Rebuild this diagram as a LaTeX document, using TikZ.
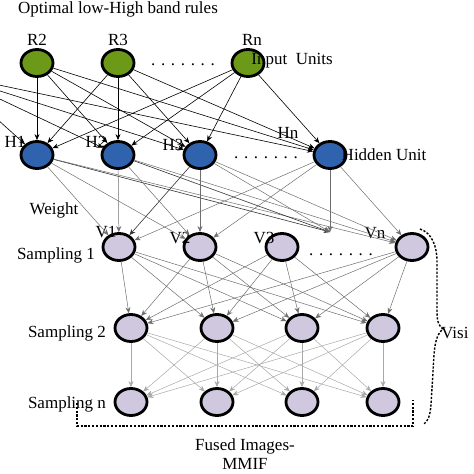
\documentclass[tikz,border=0pt]{standalone}
\usepackage{fontspec}
\setmainfont{Liberation Serif}
\usetikzlibrary{shapes.geometric,arrows.meta,positioning}
\definecolor{nnGreen}{HTML}{6C9A18}
\definecolor{nnBlue}{HTML}{3063AE}
\definecolor{nnLilac}{HTML}{CFC8DF}
\definecolor{nnGray}{HTML}{6E6E6E}
\definecolor{nnLight}{HTML}{A8A8A8}
\tikzset{
  inunit/.style={ellipse, draw=black, line width=2.8pt, fill=nnGreen,
    minimum width=32pt, minimum height=27pt, inner sep=0pt},
  hidunit/.style={inunit, fill=nnBlue},
  visunit/.style={inunit, fill=nnLilac},
  unitlab/.style={font=\fontsize{17}{19}\selectfont, inner sep=0pt},
  dotsrow/.style={font=\fontsize{17}{19}\selectfont, inner sep=0pt},
  inline/.style={-{Stealth[length=6pt,width=5pt]}, draw=black, line width=0.6pt},
  hidline/.style={-{Stealth[length=6pt,width=5pt]}, draw=nnGray, line width=0.5pt},
  hiddark/.style={hidline, draw=black!80, line width=0.6pt},
  visline/.style={-{Stealth[length=6pt,width=5pt]}, draw=nnGray, line width=0.5pt},
  sampline/.style={-{Stealth[length=6pt,width=5pt]}, draw=nnLight, line width=0.5pt},
  fusedash/.style={draw=black, line width=1.4pt, dash pattern=on 2.2pt off 1.6pt}
}

\begin{document}
\begin{tikzpicture}[x=1pt, y=-1pt]
\useasboundingbox (0,0) rectangle (474,474);
\clip (0,0) rectangle (474,474);

\node[unitlab] (title) at (118,9) {Optimal low-High band rules};

% input units
\coordinate (R1) at (-53,74);
\node[inunit] (R2) at (37,63) {};
\node[inunit] (R3) at (118,63) {};
\node[inunit] (Rn) at (248,63) {};
\node[unitlab] (R2l) at (37,40) {R2};
\node[unitlab] (R3l) at (118,40) {R3};
\node[unitlab] (Rnl) at (252,40) {Rn};
\node[dotsrow] (Rdots) at (183,65) {. . . . . . .};
\node[unitlab] (inlab) at (292,61) {Input\ \ Units};

% hidden units
\node[hidunit] (H1) at (37,155) {};
\node[hidunit] (H2) at (118,155) {};
\node[hidunit] (H3) at (200,155) {};
\node[hidunit] (Hn) at (330,155) {};
\node[unitlab] (H1l) at (15,142) {H1};
\node[unitlab] (H2l) at (96,142) {H2};
\node[unitlab] (H3l) at (173,145) {H3};
\node[unitlab] (Hnl) at (288,133) {Hn};
\node[dotsrow] (Hdots) at (266,158) {. . . . . . .};
\node[unitlab] (hidlab) at (384,155) {Hidden Unit};
\node[unitlab] (wlab) at (54,210) {Weight};

% first sampling layer
\node[visunit] (V1) at (119,247) {};
\node[visunit] (V2) at (200,247) {};
\node[visunit] (V3) at (282,247) {};
\node[visunit] (Vn) at (412,247) {};
\coordinate (Vx) at (330,232);
\node[unitlab] (V1l) at (106,232) {V1};
\node[unitlab] (V2l) at (180,238) {V2};
\node[unitlab] (V3l) at (264,238) {V3};
\node[unitlab] (Vnl) at (375,233) {Vn};
\node[dotsrow] (Vdots) at (341,255) {. . . . . . .};
\node[unitlab] (s1lab) at (56,255) {Sampling 1};

% sampling 2
\node[visunit] (T1) at (131,328) {};
\node[visunit] (T2) at (217,328) {};
\node[visunit] (T3) at (302,328) {};
\node[visunit] (T4) at (383,328) {};
\node[unitlab] (s2lab) at (67,333) {Sampling 2};

% sampling n
\node[visunit] (U1) at (131,402) {};
\node[visunit] (U2) at (217,402) {};
\node[visunit] (U3) at (302,402) {};
\node[visunit] (U4) at (383,402) {};
\node[unitlab] (snlab) at (67,404) {Sampling n};

\node[unitlab, align=center, font=\fontsize{17}{19}\selectfont] (fused) at (245,454) {Fused Images-\\MMIF};
\node[unitlab, anchor=west] (vislab) at (441,333) {Visi};

% input -> hidden
\draw[inline] (R1) -- (H1);
\draw[inline] (R1) -- (H2);
\draw[inline] (R1) -- (H3);
\draw[inline] (R1) -- (Hn);
\draw[inline] (R2) -- (H1);
\draw[inline] (R2) -- (H2);
\draw[inline] (R2) -- (H3);
\draw[inline] (R2) -- (Hn);
\draw[inline] (R3) -- (H1);
\draw[inline] (R3) -- (H2);
\draw[inline] (R3) -- (H3);
\draw[inline] (R3) -- (Hn);
\draw[inline] (Rn) -- (H1);
\draw[inline] (Rn) -- (H2);
\draw[inline] (Rn) -- (H3);
\draw[inline] (Rn) -- (Hn);

% hidden -> sampling 1
\draw[hidline] (H1) -- (V1);
\draw[hidline] (H1) -- (V2);
\draw[hiddark] (H1) -- (Vx);
\draw[hidline] (H1) -- (Vn);
\draw[hidline] (H2) -- (V1);
\draw[hidline] (H2) -- (V2);
\draw[hiddark] (H2) -- (Vx);
\draw[hidline] (H2) -- (Vn);
\draw[hiddark] (H3) -- (V1);
\draw[hidline] (H3) -- (V2);
\draw[hidline] (H3) -- (Vx);
\draw[hidline] (H3) -- (Vn);
\draw[hidline] (Hn) -- (V1);
\draw[hidline] (Hn) -- (V2);
\draw[hidline] (Hn) -- (Vx);
\draw[hidline] (Hn) -- (Vn);

% sampling 1 -> sampling 2
\draw[visline] (V1) -- (T1);
\draw[visline] (V1) -- (T2);
\draw[visline] (V1) -- (T3);
\draw[visline] (V1) -- (T4);
\draw[visline] (V2) -- (T1);
\draw[visline] (V2) -- (T2);
\draw[visline] (V2) -- (T3);
\draw[visline] (V2) -- (T4);
\draw[visline] (V3) -- (T1);
\draw[visline] (V3) -- (T2);
\draw[visline] (V3) -- (T3);
\draw[visline] (V3) -- (T4);
\draw[visline] (Vn) -- (T1);
\draw[visline] (Vn) -- (T2);
\draw[visline] (Vn) -- (T3);
\draw[visline] (Vn) -- (T4);

% sampling 2 -> sampling n
\draw[sampline] (T1) -- (U1);
\draw[sampline] (T1) -- (U2);
\draw[sampline] (T1) -- (U3);
\draw[sampline] (T1) -- (U4);
\draw[sampline] (T2) -- (U1);
\draw[sampline] (T2) -- (U2);
\draw[sampline] (T2) -- (U3);
\draw[sampline] (T2) -- (U4);
\draw[sampline] (T3) -- (U1);
\draw[sampline] (T3) -- (U2);
\draw[sampline] (T3) -- (U3);
\draw[sampline] (T3) -- (U4);
\draw[sampline] (T4) -- (U1);
\draw[sampline] (T4) -- (U2);
\draw[sampline] (T4) -- (U3);
\draw[sampline] (T4) -- (U4);

% dashed groupings
\draw[fusedash] (77,403) -- (77,426) -- (413,426) -- (413,400);
\draw[fusedash] (420,229) .. controls (432,233) and (437,246) .. (437,262)
  -- (437,312) .. controls (437,322) and (439,326) .. (443,329)
  .. controls (437,334) and (435,342) .. (434,355)
  -- (431,405) .. controls (430,416) and (428,421) .. (424,424);
\end{tikzpicture}
\end{document}
